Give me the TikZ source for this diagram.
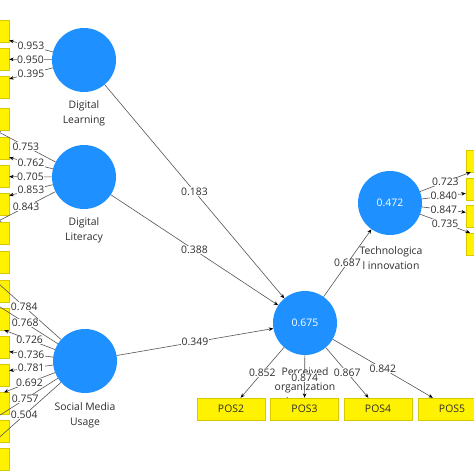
\documentclass[tikz,border=0pt]{standalone}
\usepackage{fontspec}
\setmainfont{Open Sans}
\usetikzlibrary{arrows.meta}
\definecolor{lv}{RGB}{30,144,255}
\definecolor{ink}{RGB}{45,45,45}
\definecolor{edge}{RGB}{85,85,85}
\definecolor{boxline}{RGB}{215,200,0}
\begin{document}
\begin{tikzpicture}[x=1pt,y=-1pt,
  every node/.style={font=\fontsize{10.4}{15}\selectfont, text=ink},
  latent/.style={circle, fill=lv, minimum size=64pt, inner sep=0pt, text=white},
  ind/.style={rectangle, fill=yellow, draw=boxline, line width=0.4pt, minimum width=68pt, minimum height=22pt, inner sep=0pt},
  conn/.style={draw=edge, line width=0.6pt, -{Stealth[length=4.5pt,width=3.6pt,black]}},
  coef/.style={fill=white, inner sep=0.5pt, text=ink},
  lvname/.style={align=center}]
\useasboundingbox (0,0) rectangle (474,474);
\clip (0,0) rectangle (474,474);
\fill[white] (0,0) rectangle (474,474);

% latent variable names (POS first, partly hidden by boxes)
\node[lvname] (posname) at (305,388) {Perceived\\organization\\al support};

% latent variables
\node[latent] (dl)   at (84,60)  {};
\node[latent] (dlit) at (84,177) {};
\node[latent] (smu)  at (85,361) {};
\node[latent] (tech) at (390,203) {0.472};
\node[latent] (pos)  at (305,323) {0.675};

% indicators, left
\node[ind] (l1)  at (-25,31.5) {};
\node[ind] (l2)  at (-25,59) {};
\node[ind] (l3)  at (-25,87.5) {};
\node[ind] (l4)  at (-25,119.5) {};
\node[ind] (l5)  at (-25,148.5) {};
\node[ind] (l6)  at (-25,176.5) {};
\node[ind] (l7)  at (-25,204) {};
\node[ind] (l8)  at (-25,233) {};
\node[ind] (l9)  at (-25,262.5) {};
\node[ind] (l10) at (-25,291) {};
\node[ind] (l11) at (-25,319) {};
\node[ind] (l12) at (-25,347.5) {};
\node[ind] (l13) at (-25,375) {};
\node[ind] (l14) at (-25,403.5) {};
\node[ind] (l15) at (-25,431) {};
\node[ind] (l16) at (-25,459) {};
% indicators, right
\node[ind] (t1) at (500,161) {};
\node[ind] (t2) at (500,189) {};
\node[ind] (t3) at (500,216.5) {};
\node[ind] (t4) at (500,244) {};
% indicators, bottom
\node[ind] (p2) at (231,409) {POS2};
\node[ind] (p3) at (304.5,409) {POS3};
\node[ind] (p4) at (378,409) {POS4};
\node[ind] (p5) at (452,409) {POS5};

% outer loadings
\draw[conn] (dl) -- node[coef]{0.953} (l1);
\draw[conn] (dl) -- node[coef]{0.950} (l2);
\draw[conn] (dl) -- node[coef]{0.395} (l3);

\draw[conn] (dlit) -- node[coef]{0.753} (l4);
\draw[conn] (dlit) -- node[coef]{0.762} (l5);
\draw[conn] (dlit) -- node[coef]{0.705} (l6);
\draw[conn] (dlit) -- node[coef]{0.853} (l7);
\draw[conn] (dlit) -- node[coef]{0.843} (l8);

\draw[conn] (smu) -- node[coef]{0.784} (l9);
\draw[conn] (smu) -- node[coef]{0.768} (l10);
\draw[conn] (smu) -- node[coef]{0.726} (l11);
\draw[conn] (smu) -- node[coef]{0.736} (l12);
\draw[conn] (smu) -- node[coef]{0.781} (l13);
\draw[conn] (smu) -- node[coef]{0.692} (l14);
\draw[conn] (smu) -- node[coef]{0.757} (l15);
\draw[conn] (smu) -- node[coef]{0.504} (l16);

\draw[conn] (tech) -- node[coef]{0.723} (t1);
\draw[conn] (tech) -- node[coef]{0.840} (t2);
\draw[conn] (tech) -- node[coef]{0.847} (t3);
\draw[conn] (tech) -- node[coef]{0.735} (t4);

\draw[conn] (pos) -- node[coef]{0.852} (p2);
\draw[conn] (pos) -- node[coef,pos=0.53]{0.874} (p3);
\draw[conn] (pos) -- node[coef]{0.867} (p4);
\draw[conn] (pos) -- node[coef]{0.842} (p5);

% path coefficients
\draw[conn] (dl)   -- node[coef]{0.183} (pos);
\draw[conn] (dlit) -- node[coef]{0.388} (pos);
\draw[conn] (smu)  -- node[coef]{0.349} (pos);
\draw[conn] (pos)  -- node[coef]{0.687} (tech);

% latent variable names
\node[lvname] (dlname)   at (84,113.5)  {Digital\\Learning};
\node[lvname] (dlitname) at (84,230.5)  {Digital\\Literacy};
\node[lvname] (smuname)  at (85,415.5)  {Social Media\\Usage};
\node[lvname] (techname) at (391,258)   {Technologica\\l innovation};
\end{tikzpicture}
\end{document}
